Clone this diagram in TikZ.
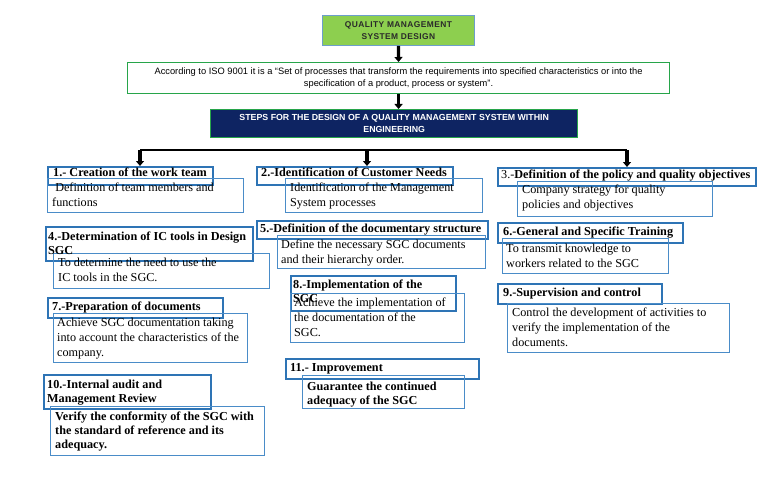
\documentclass[tikz,border=0pt]{standalone}
\usepackage{fontspec}
\setmainfont{Liberation Serif}
\setsansfont{Liberation Sans}
\usetikzlibrary{arrows.meta}
\definecolor{hblue}{HTML}{2E74B5}
\definecolor{bblue}{HTML}{4A8CC8}
\definecolor{tgreen}{HTML}{8DCF4F}
\definecolor{navy}{HTML}{0E2462}
\definecolor{dgreen}{HTML}{27A54A}
\definecolor{tgray}{HTML}{2A2A2A}
\newcommand\bx[6]{\node[#2, anchor=north west, inner sep=0pt, minimum width={(#5-#3)*1pt}, minimum height={(#6-#4)*1pt}] (#1) at (#3,#4) {};}
\begin{document}
\begin{tikzpicture}[x=1pt,y=-1pt,
 hdr/.style={draw=hblue, line width=1.6pt},
 bdy/.style={draw=bblue, line width=1pt},
 txt/.style={anchor=north west, inner sep=0pt, align=left, font=\fontsize{12.2}{15}\selectfont},
 htxt/.style={anchor=north west, inner sep=0pt, align=left, font=\fontsize{12.2}{13.8}\selectfont\bfseries},
 btxt/.style={anchor=north west, inner sep=0pt, align=left, font=\fontsize{12.2}{13.7}\selectfont\bfseries},
 arr/.style={line width=3.2pt, -{Triangle[width=8pt,length=5pt]}}]
\useasboundingbox (0,0) rectangle (768,484);
\fill[white] (0,0) rectangle (768,484);

% top boxes
\bx{title}{fill=tgreen, draw=hblue!70, line width=0.8pt}{322}{15}{474}{45}
\node[font=\sffamily\fontsize{8.4}{12}\selectfont\bfseries\addfontfeatures{LetterSpace=5}, text=tgray, align=center] (titlet) at (title.center) {QUALITY MANAGEMENT\\SYSTEM DESIGN};
\bx{def}{draw=dgreen, line width=1.1pt}{127}{62}{669}{93}
\node[font=\sffamily\fontsize{9.3}{12}\selectfont, align=center] (deft) at (def.center) {According to ISO 9001 it is a ``Set of processes that transform the requirements into specified characteristics or into the\\specification of a product, process or system''.};
\bx{steps}{fill=navy, draw=dgreen, line width=1.4pt}{210}{109}{577}{137}
\node[font=\sffamily\fontsize{8.8}{12}\selectfont\bfseries, text=white, align=center] (stepst) at (steps.center) {STEPS FOR THE DESIGN OF A QUALITY MANAGEMENT SYSTEM WITHIN\\ENGINEERING};

\draw[arr] (title.south) -- (def.north);
\draw[arr] (def.south) -- (def.south |- steps.north);

% step boxes
\bx{h1}{hdr}{47}{166}{212}{184}
\bx{b1}{bdy}{47}{178}{243}{212}
\bx{h2}{hdr}{256}{166}{452}{184}
\bx{b2}{bdy}{285}{178}{482}{212}
\bx{h3}{hdr}{497}{167}{755}{185}
\bx{b3}{bdy}{517}{181}{712}{216}
\bx{h4}{hdr}{45}{226}{252}{260}
\bx{b4}{bdy}{53}{253}{269}{288}
\bx{h5}{hdr}{256}{220}{487}{238}
\bx{b5}{bdy}{277}{235}{485}{268}
\bx{h6}{hdr}{497}{222}{682}{242}
\bx{b6}{bdy}{502}{238}{668}{273}
\bx{h7}{hdr}{47}{297}{222}{317}
\bx{b7}{bdy}{53}{313}{247}{362}
\bx{h8}{hdr}{290}{275}{455}{310}
\bx{b8}{bdy}{290}{293}{464}{342}
\bx{h9}{hdr}{497}{283}{661}{303}
\bx{b9}{bdy}{507}{303}{729}{352}
\bx{h10}{hdr}{43}{374}{210}{408}
\bx{b10}{bdy}{50}{406}{264}{455}
\bx{h11}{hdr}{285}{358}{478}{378}
\bx{b11}{bdy}{302}{375}{464}{408}

% connectors
\coordinate (c1) at (140,150);
\coordinate (c2) at (367,150);
\coordinate (c3) at (627,150);
\draw[line width=2.6pt] (c1) -- (c3);
\draw[arr] (c1) -- (c1 |- h1.north);
\draw[arr] (c2) -- (c2 |- h2.north);
\draw[arr] (c3) -- (c3 |- h3.north);

% texts
\node[htxt] (h1t) at (53,168) {1.- Creation of the work team};
\node[txt] (b1t) at (52,183) {\ Definition of team members and\\functions};
\node[htxt] (h2t) at (261,168) {2.-Identification of Customer Needs};
\node[txt] (b2t) at (290,183) {Identification of the Management\\System processes};
\node[txt] (h3t) at (501,170) {3.-\textbf{Definition of the policy and quality objectives}};
\node[txt] (b3t) at (522,185) {Company strategy for quality\\policies and objectives};
\node[htxt] (h4t) at (48,232) {4.-Determination of IC tools in Design\\SGC};
\node[txt] (b4t) at (58,258) {To determine the need to use the\\IC tools in the SGC.};
\node[htxt] (h5t) at (260,224) {5.-Definition of the documentary structure};
\node[txt] (b5t) at (281,240) {Define the necessary SGC documents\\and their hierarchy order.};
\node[htxt] (h6t) at (503,227) {6.-General and Specific Training};
\node[txt] (b6t) at (506,244) {To transmit knowledge to\\workers related to the SGC};
\node[htxt] (h7t) at (52,302) {7.-Preparation of documents};
\node[txt] (b7t) at (57,318) {Achieve SGC documentation taking\\into account the characteristics of the\\company.};
\node[htxt] (h8t) at (293,280) {8.-Implementation of the\\SGC};
\node[txt] (b8t) at (294,298) {Achieve the implementation of\\the documentation of the\\SGC.};
\node[htxt] (h9t) at (503,288) {9.-Supervision and control};
\node[txt] (b9t) at (512,308) {Control the development of activities to\\verify the implementation of the\\documents.};
\node[htxt] (h10t) at (47,380) {10.-Internal audit and\\Management Review};
\node[btxt] (b10t) at (55,412) {Verify the conformity of the SGC with\\the standard of reference and its\\adequacy.};
\node[htxt] (h11t) at (290,363) {11.- Improvement};
\node[btxt] (b11t) at (307,382) {Guarantee the continued\\adequacy of the SGC};
\end{tikzpicture}
\end{document}
